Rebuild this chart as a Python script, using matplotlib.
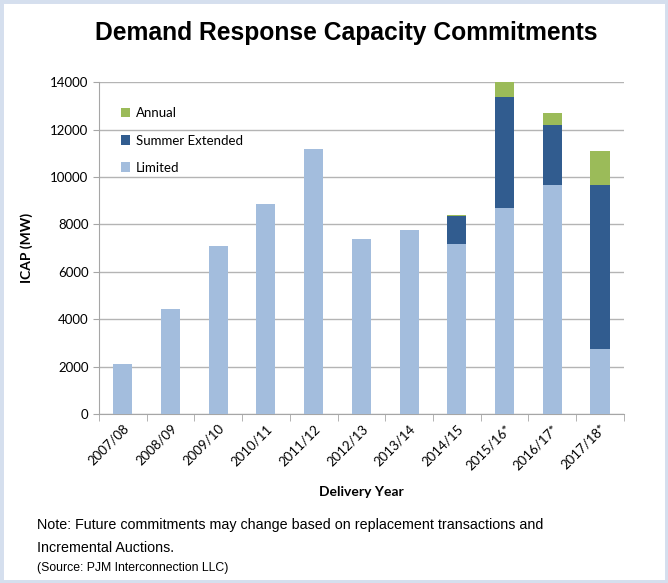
import matplotlib
matplotlib.use("Agg")
import matplotlib.pyplot as plt
import numpy as np
from matplotlib.patches import Rectangle

years = ["2007/08", "2008/09", "2009/10", "2010/11", "2011/12", "2012/13",
         "2013/14", "2014/15", "2015/16*", "2016/17*", "2017/18*"]
limited = [2120, 4440, 7100, 8850, 11170, 7380, 7770, 7180, 8690, 9660, 2760]
summer_ext = [0, 0, 0, 0, 0, 0, 0, 1160, 4670, 2540, 6900]
annual = [0, 0, 0, 0, 0, 0, 0, 40, 640, 520, 1445]
yticks = [0, 2000, 4000, 6000, 8000, 10000, 12000, 14000]

c_lim = "#a3bddd"
c_sum = "#315c8f"
c_ann = "#9bbb59"

fig = plt.figure(figsize=(6.68, 5.83), dpi=100)
ax = fig.add_axes([0.148, 0.290, 0.786, 0.569])

x = np.arange(len(years))
w = 0.4
lim = np.array(limited)
sm = np.array(summer_ext)
an = np.array(annual)
ax.bar(x, lim, w, color=c_lim, label="Limited", zorder=3)
ax.bar(x, sm, w, bottom=lim, color=c_sum, label="Summer Extended", zorder=3)
ax.bar(x, an, w, bottom=lim + sm, color=c_ann, label="Annual", zorder=3)

ax.set_xlim(-0.5, len(years) - 0.5)
ax.set_ylim(0, 14000)
ax.set_yticks(yticks)
ax.yaxis.grid(True, color="#b4b4b4", linewidth=1.0, zorder=0)
ax.set_axisbelow(True)

for s in ["top", "right"]:
    ax.spines[s].set_visible(False)
ax.spines["left"].set_color("#a6a6a6")
ax.spines["bottom"].set_color("#a6a6a6")

ax.set_xticks(x)
ax.set_xticklabels(years, rotation=45, ha="right", rotation_mode="anchor",
                   fontname="Lato", fontsize=9.5)
ax.set_xticks(np.arange(-0.5, len(years)), minor=True)
ax.tick_params(axis="x", which="major", length=0, pad=6)
ax.tick_params(axis="x", which="minor", length=5, color="#a6a6a6")
ax.tick_params(axis="y", length=4, color="#a6a6a6", labelsize=9.5)
for lb in ax.get_yticklabels():
    lb.set_fontname("Lato")

ax.set_ylabel("ICAP (MW)", fontname="Lato", fontweight="bold", fontsize=10, labelpad=12)
ax.set_xlabel("Delivery Year", fontname="Lato", fontweight="bold", fontsize=10, labelpad=10)

h, l = ax.get_legend_handles_labels()
leg = ax.legend(h[::-1], l[::-1], loc="upper left", bbox_to_anchor=(0.02, 0.96),
                frameon=False, handlelength=0.7, handleheight=0.7,
                labelspacing=1.15, handletextpad=0.4,
                prop={"family": "Lato", "size": 9.5})

fig.text(0.519, 0.943, "Demand Response Capacity Commitments", ha="center", va="center",
         fontname="Liberation Sans", fontweight="bold", fontsize=17.7)

fig.text(0.055, 0.099, "Note: Future commitments may change based on replacement transactions and",
         fontname="Liberation Sans", fontsize=10.3, va="center")
fig.text(0.055, 0.060, "Incremental Auctions.",
         fontname="Liberation Sans", fontsize=10.3, va="center")
fig.text(0.055, 0.025, "(Source: PJM Interconnection LLC)",
         fontname="Liberation Sans", fontsize=8.8, va="center")

fig.patches.append(Rectangle((0, 0), 1, 1, transform=fig.transFigure, fill=False,
                             edgecolor="#d5dfee", linewidth=5, zorder=10))

fig.savefig("out.png", dpi=100)
